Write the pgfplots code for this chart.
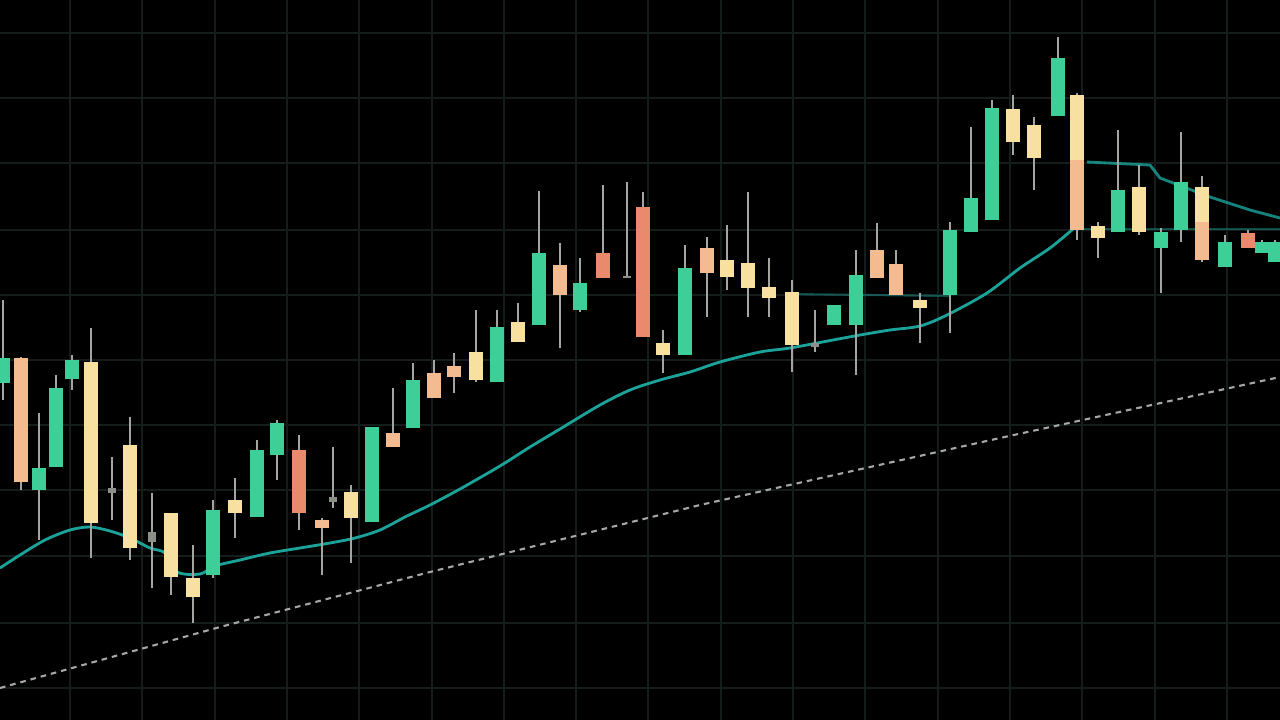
\documentclass[border=0pt]{standalone}
\usepackage{pgfplots}
\pgfplotsset{compat=1.18}
\usepackage{pgfplotstable}

\definecolor{gridc}{HTML}{141C1C}
\definecolor{upc}{HTML}{3ECF98}
\definecolor{creamc}{HTML}{F7E0A0}
\definecolor{peachc}{HTML}{F5BB90}
\definecolor{redc}{HTML}{EA8A6C}
\definecolor{dojic}{HTML}{8A8F88}
\definecolor{wickc}{HTML}{A4A4A0}
\definecolor{mac}{HTML}{1BA39A}

\pgfplotstableread{
x hi top bot lo
3 300 358 383 400
39 413 468 490 540
56 375 388 467 467
72 355 360 379 390
213 500 510 575 578
257 440 450 517 517
277 420 423 455 480
372 427 427 522 522
413 363 380 428 428
497 310 327 382 382
539 191 253 325 325
580 258 283 310 312
685 245 268 355 355
834 305 305 325 325
856 250 275 325 375
950 222 230 295 333
971 127 198 232 232
992 100 108 220 220
1058 37 58 116 116
1118 130 190 232 232
1161 228 232 248 293
1181 132 182 230 242
1225 235 242 267 267
1262 240 242 253 253
1275 240 242 262 262
}\candG

\pgfplotstableread{
x hi top bot lo
91 328 362 523 558
130 417 445 548 560
171 513 513 577 595
193 545 578 597 623
235 478 500 513 538
351 485 492 518 563
476 310 352 380 382
518 303 322 342 342
663 330 343 355 373
727 225 260 277 290
748 192 263 288 317
769 258 287 298 317
792 280 292 345 372
920 293 300 308 343
1013 95 109 142 155
1034 117 125 158 190
1077 93 95 160 240
1098 222 226 238 258
1139 165 187 232 235
1202 176 187 222 262
}\candC

\pgfplotstableread{
x hi top bot lo
21 357 358 482 490
322 518 520 528 575
393 388 433 447 447
434 360 373 398 398
454 353 366 377 393
560 243 265 295 348
707 237 248 273 317
877 223 250 278 278
896 250 264 295 295
1077 160 160 230 230
1202 222 222 260 260
}\candP

\pgfplotstableread{
x hi top bot lo
299 435 450 513 530
603 185 253 278 278
643 192 207 337 337
1248 230 233 248 248
}\candS

\pgfplotstableread{
x hi top bot lo
112 457 488 493 520
152 493 532 542 588
333 447 497 502 508
627 182 276 277 277
815 310 343 347 352
}\candD

\newcommand{\candles}[3]{%
  \addplot[draw=none, mark=none, error bars/.cd, y dir=both, y explicit, error mark=none,
    error bar style={draw=wickc, line width=0.6pt}]
    table[x=x, y expr={(\thisrow{hi}+\thisrow{lo})/2}, y error expr={(\thisrow{lo}-\thisrow{hi})/2}] {#1};
  \addplot[draw=none, mark=none, error bars/.cd, y dir=both, y explicit, error mark=none,
    error bar style={draw=#2, line width=#3}]
    table[x=x, y expr={(\thisrow{top}+\thisrow{bot})/2}, y error expr={(\thisrow{bot}-\thisrow{top})/2}] {#1};
}

\begin{document}
\begin{tikzpicture}
\begin{axis}[
    width=12.8cm, height=7.2cm, scale only axis,
    xmin=0, xmax=1280, ymin=0, ymax=720, y dir=reverse,
    axis background/.style={fill=black},
    axis line style={draw=none},
    xtick={70,142,215,287,359,432,504,576,648,721,793,865,938,1010,1082,1155,1227},
    ytick={33,98,163,230,295,360,425,490,556,623,688},
    xticklabels={}, yticklabels={},
    major tick length=0pt,
    grid=major,
    grid style={draw=gridc, line width=0.4pt},
    clip=true,
]
% dotted trend line
\addplot[color=white!65!black, line width=0.6pt, dash pattern=on 1.6pt off 1.4pt]
  coordinates {(0,688) (220,627) (430,572) (700,505) (1000,438) (1280,377)};

% faint leftover teal lines
\addplot[color=mac, opacity=0.45, line width=0.6pt] coordinates {(790,294) (950,296)};
\addplot[color=mac, opacity=0.45, line width=0.6pt] coordinates {(1073,229) (1280,229)};
\addplot[color=mac, opacity=0.8, line width=0.8pt]
  coordinates {(1087,162) (1150,165) (1160,178) (1210,197) (1250,210) (1280,218)};

% moving average
\addplot[color=mac, line width=0.8pt, smooth]
  coordinates {(0,568) (20,555) (45,540) (70,530) (90,527) (110,531) (130,538) (150,548)
  (165,553) (177,572) (200,574) (215,566) (240,560) (270,553) (300,548) (330,543)
  (355,538) (380,530) (405,517) (430,505) (460,489) (500,466) (530,447) (560,429)
  (600,405) (630,390) (660,380) (690,372) (720,362) (760,352) (790,348) (833,340)
  (860,335) (890,330) (920,326) (947,315) (987,293) (1020,268) (1050,248) (1073,229)};

\candles{\candD}{dojic}{2.2pt}
\candles{\candG}{upc}{3.8pt}
\candles{\candC}{creamc}{3.8pt}
\candles{\candP}{peachc}{3.8pt}
\candles{\candS}{redc}{3.8pt}
\end{axis}
\pgfresetboundingbox
\path[use as bounding box] (current axis.south west) rectangle (current axis.north east);
\end{tikzpicture}
\end{document}
